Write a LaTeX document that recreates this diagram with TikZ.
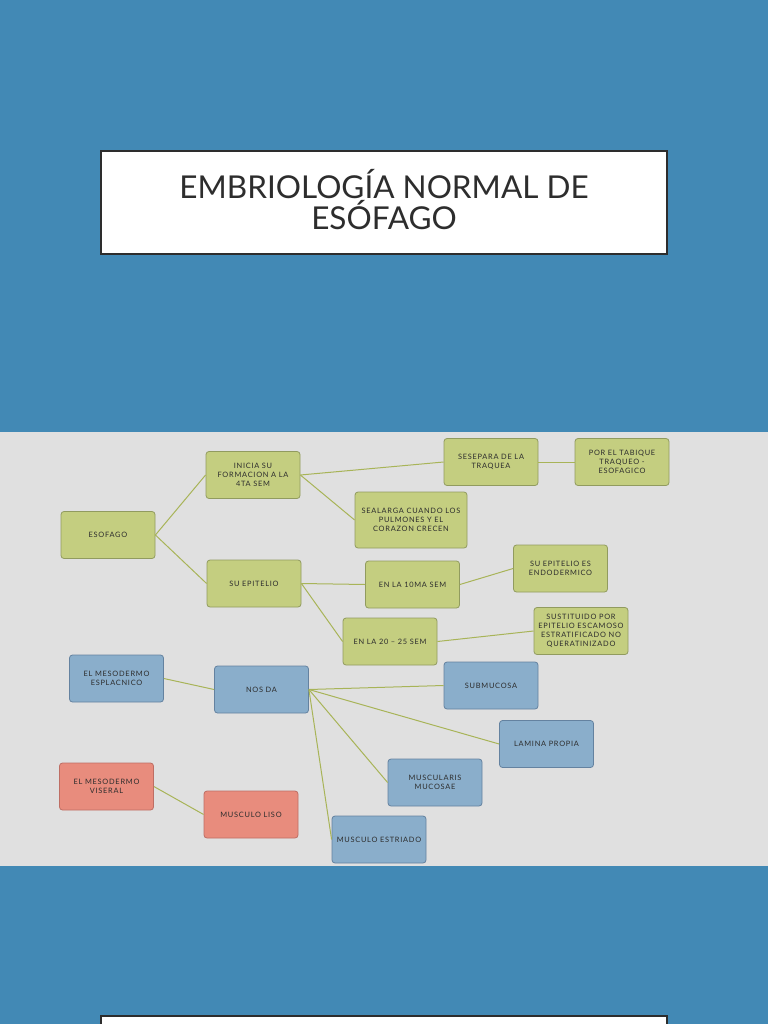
\documentclass[tikz,border=0pt]{standalone}
\usepackage{fontspec}
\setmainfont{Lato}
\newfontfamily\boxfont[LetterSpace=10]{Lato}
\usetikzlibrary{positioning}
\definecolor{slideblue}{RGB}{66,137,181}
\definecolor{panelgray}{RGB}{224,224,224}
\definecolor{titleink}{RGB}{45,45,45}
\definecolor{leafgreen}{RGB}{196,206,128}
\definecolor{leafgreenline}{RGB}{145,155,95}
\definecolor{leafblue}{RGB}{138,174,203}
\definecolor{leafblueline}{RGB}{100,130,160}
\definecolor{leafred}{RGB}{232,140,125}
\definecolor{leafredline}{RGB}{190,110,100}
\definecolor{linkgreen}{RGB}{168,180,88}
\tikzstyle{box}=[draw=leafgreenline,fill=leafgreen,rounded corners=3pt,line width=0.8pt,minimum width=94pt,minimum height=47pt,align=center,text=titleink,font=\boxfont\fontsize{7.4}{9}\selectfont]
\tikzstyle{bluebox}=[box,draw=leafblueline,fill=leafblue]
\tikzstyle{redbox}=[box,draw=leafredline,fill=leafred]
\tikzstyle{link}=[draw=linkgreen,line width=1pt]
\tikzstyle{titlebox}=[draw=titleink,fill=white,line width=2pt,minimum width=566pt,minimum height=103pt,align=center,text=titleink,font=\fontsize{31.5}{31}\selectfont]

\begin{document}
\begin{tikzpicture}[x=1pt,y=-1pt]
\useasboundingbox (0,0) rectangle (768,1024);
% slide background
\fill[slideblue] (0,0) rectangle (768,1024);
\fill[panelgray] (0,432) rectangle (768,866);
\node[titlebox] (title) at (384,202.5) {};
\node[text=titleink,align=center,font=\fontsize{31.5}{31}\selectfont] (titletext) at (384,200) {EMBRIOLOGÍA NORMAL DE\\ESÓFAGO};
\filldraw[fill=white,draw=titleink,line width=2pt] (101,1030) -- (101,1016) -- (667,1016) -- (667,1030);

% green branch
\node[box] (esofago) at (108,535) {ESOFAGO};
\node[box] (inicia) at (253,475) {INICIA SU\\FORMACION A LA\\4TA SEM};
\node[box] (epitelio) at (254,583.5) {SU EPITELIO};
\node[box] (separa) at (491,462) {SESEPARA DE LA\\TRAQUEA};
\node[box] (tabique) at (622,462) {POR EL TABIQUE\\TRAQUEO -\\ESOFAGICO};
\node[box,minimum width=112pt,minimum height=56pt] (alarga) at (411,520) {SEALARGA CUANDO LOS\\PULMONES Y EL\\CORAZON CRECEN};
\node[box] (diezsem) at (412.5,584.5) {EN LA 10MA SEM};
\node[box] (endodermo) at (560.5,568.5) {SU EPITELIO ES\\ENDODERMICO};
\node[box] (veintesem) at (390,641.5) {EN LA 20 – 25 SEM};
\node[box] (sustituido) at (581,631) {SUSTITUIDO POR\\EPITELIO ESCAMOSO\\ESTRATIFICADO NO\\QUERATINIZADO};

% blue branch
\node[bluebox] (esplacnico) at (116.5,678.5) {EL MESODERMO\\ESPLACNICO};
\node[bluebox] (nosda) at (261.5,689.5) {NOS DA};
\node[bluebox] (submucosa) at (491,685.5) {SUBMUCOSA};
\node[bluebox] (lamina) at (546.5,744) {LAMINA PROPIA};
\node[bluebox] (muscularis) at (435,782.5) {MUSCULARIS\\MUCOSAE};
\node[bluebox] (estriado) at (379,839.5) {MUSCULO ESTRIADO};

% red branch
\node[redbox] (visceral) at (106.5,786.5) {EL MESODERMO\\VISERAL};
\node[redbox] (liso) at (251,814.5) {MUSCULO LISO};

\foreach \a/\b in {esofago/inicia,esofago/epitelio,inicia/separa,inicia/alarga,separa/tabique,
  epitelio/diezsem,epitelio/veintesem,diezsem/endodermo,veintesem/sustituido,
  esplacnico/nosda,nosda/submucosa,nosda/lamina,nosda/muscularis,nosda/estriado,visceral/liso}
  \draw[link] (\a.east) -- (\b.west);
\end{tikzpicture}
\end{document}
